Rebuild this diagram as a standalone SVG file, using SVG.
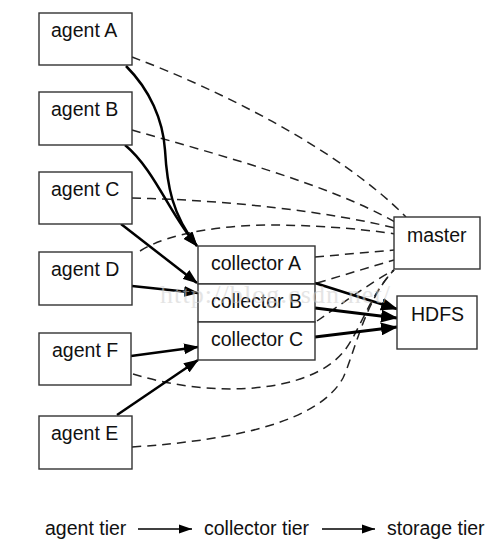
<svg xmlns="http://www.w3.org/2000/svg" width="502" height="542" viewBox="0 0 502 542">
<style>
.box{fill:#fff;stroke:#333;stroke-width:1.4}
.t{font-family:"Liberation Sans",Arial,sans-serif;font-size:19.5px;fill:#111}
.s{fill:none;stroke:#000;stroke-width:2.5;marker-end:url(#ah)}
.h{fill:none;stroke:#000;stroke-width:2.8;marker-end:url(#ahb)}
.d{fill:none;stroke:#222;stroke-width:1.5;stroke-dasharray:9 6}
.wm{font-family:"Liberation Serif","Times New Roman",serif;font-size:26px;fill:#cfcfcf;opacity:0.55}
</style>
<defs>
<marker id="ah" markerUnits="userSpaceOnUse" markerWidth="15" markerHeight="12" refX="14" refY="5.5" orient="auto" viewBox="0 0 15 11">
<path d="M0,0 L15,5.5 L0,11 z" fill="#000"/>
</marker>
<marker id="ahb" markerUnits="userSpaceOnUse" markerWidth="17" markerHeight="13" refX="16" refY="6.5" orient="auto" viewBox="0 0 17 13">
<path d="M0,0 L17,6.5 L0,13 z" fill="#000"/>
</marker>
<marker id="lg" markerUnits="userSpaceOnUse" markerWidth="13" markerHeight="10" refX="13" refY="4.5" orient="auto" viewBox="0 0 13 9">
<path d="M0,0 L13,4.5 L0,9 z" fill="#000"/>
</marker>
</defs>

<g id="connectors">
<path class="d" d="M132,57 C220,90 340,150 406,217"/>
<path class="d" d="M132,130 C220,155 330,185 395,222"/>
<path class="d" d="M132,198 C230,200 330,212 395,228"/>
<path class="d" d="M140,251 C170,232 230,224 280,225 C330,226 370,230 395,234"/>
<path class="d" d="M315,257 L394,250"/>
<path class="d" d="M317,283 L394,260"/>
<path class="d" d="M317,321 C340,305 370,283 394,270"/>
<path class="d" d="M133,374 C210,398 310,395 345,350 C360,330 370,295 394,270"/>
<path class="d" d="M132,447 C240,440 320,420 343,378 C355,352 365,300 394,270"/>

<path class="s" d="M126,66 C150,90 163,120 165,150 C167,185 172,215 197,246"/>
<path class="s" d="M125,145 C155,170 170,215 197,246"/>
<path class="s" d="M121,224 L197,283"/>
<path class="s" d="M132,286 L198,293"/>
<path class="s" d="M131,356 L198,347"/>
<path class="s" d="M117,415 L198,360"/>
<path class="h" d="M315,283 L397,309"/>
<path class="h" d="M315,308 L397,318"/>
<path class="h" d="M315,337 L397,327"/>
</g>

<g id="agentA"><rect class="box" x="39" y="13" width="93" height="52"/><text class="t" x="51" y="37">agent A</text></g>
<g id="agentB"><rect class="box" x="39" y="92" width="93" height="53"/><text class="t" x="51" y="116">agent B</text></g>
<g id="agentC"><rect class="box" x="39" y="172" width="93" height="52"/><text class="t" x="51" y="196">agent C</text></g>
<g id="agentD"><rect class="box" x="39" y="252" width="93" height="53"/><text class="t" x="51" y="276">agent D</text></g>
<g id="agentF"><rect class="box" x="39" y="333" width="92" height="52"/><text class="t" x="52" y="357">agent F</text></g>
<g id="agentE"><rect class="box" x="39" y="416" width="93" height="53"/><text class="t" x="51" y="440">agent E</text></g>

<g id="collectorA"><rect class="box" x="198" y="246" width="117" height="38"/><text class="t" x="211" y="270">collector A</text></g>
<g id="collectorB"><rect class="box" x="198" y="284" width="117" height="38"/><text class="t" x="211" y="308">collector B</text></g>
<g id="collectorC"><rect class="box" x="198" y="322" width="117" height="38"/><text class="t" x="211" y="346">collector C</text></g>

<g id="master"><rect class="box" x="394" y="217" width="86" height="52"/><text class="t" x="407" y="242">master</text></g>
<g id="HDFS"><rect class="box" x="397" y="296" width="80" height="53"/><text class="t" x="411" y="321">HDFS</text></g>

<text class="wm" x="160" y="303" textLength="230">http://blog.csdn.net/</text>

<g id="legend">
<text class="t" x="45" y="535">agent tier</text>
<line x1="138" y1="529" x2="192" y2="529" stroke="#000" stroke-width="1.4" marker-end="url(#lg)"/>
<text class="t" x="204" y="535">collector tier</text>
<line x1="322" y1="529" x2="375" y2="529" stroke="#000" stroke-width="1.4" marker-end="url(#lg)"/>
<text class="t" x="387" y="535">storage tier</text>
</g>
</svg>
